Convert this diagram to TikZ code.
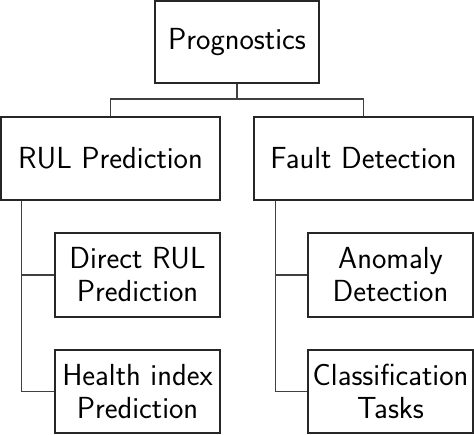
\documentclass[tikz,border=0pt]{standalone}
\usepackage{fontspec}
\begin{document}
\begin{tikzpicture}[x=1pt,y=-1pt,
  box/.style={draw=black!85,line width=1.4pt,align=center,inner sep=0pt,
    font=\sffamily\fontsize{30.5}{33}\selectfont},
  link/.style={draw=black!75,line width=1.3pt}]
\useasboundingbox (0,0) rectangle (474,434);
\node[box,minimum width=164pt,minimum height=82pt] (prog) at (237,42) {Prognostics};
\node[box,minimum width=219pt,minimum height=83pt] (rul) at (110.5,158.5) {RUL Prediction};
\node[box,minimum width=219pt,minimum height=83pt] (fault) at (363.5,158.5) {Fault Detection};
\node[box,minimum width=165pt,minimum height=84pt] (direct) at (137.5,275) {Direct RUL\\Prediction};
\node[box,minimum width=165pt,minimum height=83pt] (health) at (137.5,391.5) {Health index\\Prediction};
\node[box,minimum width=165pt,minimum height=84pt] (anom) at (390.5,275) {Anomaly\\Detection};
\node[box,minimum width=165pt,minimum height=83pt] (class) at (390.5,391.5) {Classification\\Tasks};
\coordinate (j) at (237,99);
\draw[link] (prog.south) -- (j);
\draw[link] (rul.north) |- (j) -| (fault.north);
\draw[link] ([xshift=21pt]rul.south west) |- (direct.west);
\draw[link] ([xshift=21pt]rul.south west) |- (health.west);
\draw[link] ([xshift=22pt]fault.south west) |- (anom.west);
\draw[link] ([xshift=22pt]fault.south west) |- (class.west);
\end{tikzpicture}
\end{document}
